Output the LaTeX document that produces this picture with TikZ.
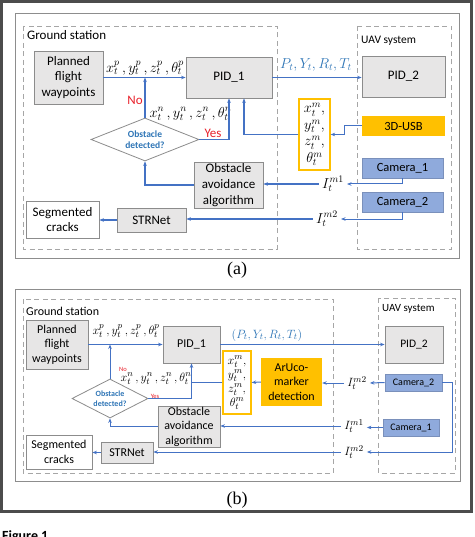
\documentclass[tikz,border=0pt]{standalone}
\usepackage{fontspec}
\setmainfont{Carlito}
\newfontfamily\capfont{Liberation Serif}
\usetikzlibrary{arrows.meta}
\usetikzlibrary{shapes.geometric}

\definecolor{boxgray}{HTML}{E7E6E6}
\definecolor{edgegray}{HTML}{8C8C8C}
\definecolor{linkblue}{HTML}{4472C4}
\definecolor{camblue}{HTML}{8FAADC}
\definecolor{usborange}{HTML}{FFC000}
\definecolor{framegray}{HTML}{A6A6A6}
\definecolor{labelred}{HTML}{E8202A}
\definecolor{textblue}{HTML}{2E75B6}

\begin{document}
\begin{tikzpicture}[x=1pt,y=-1pt,>={Stealth[length=4.5pt,width=3.5pt]},
  block/.style={draw=edgegray,fill=boxgray,line width=0.8pt,inner sep=0pt,align=center},
  whitebox/.style={draw=edgegray,fill=white,line width=0.8pt,inner sep=0pt,align=center},
  cam/.style={draw=camblue!85!black,fill=camblue,line width=0.6pt,inner sep=0pt},
  orangebox/.style={fill=usborange,inner sep=0pt,align=center},
  measbox/.style={draw=usborange,line width=1.2pt,fill=white,inner sep=0pt,align=center},
  decision/.style={diamond,aspect=2.5,draw=edgegray,fill=white,line width=0.8pt,inner sep=0pt,align=center,text=textblue},
  link/.style={->,draw=linkblue,line width=1.3pt},
  linkb/.style={->,draw=linkblue,line width=1pt},
  group/.style={draw=framegray,line width=0.9pt,dash pattern=on 5pt off 3.5pt},
  panel/.style={draw=framegray!85!black,line width=1pt},
  lbl/.style={inner sep=3pt},
  fa/.style={font=\fontsize{13}{15.7}\selectfont},
  fb/.style={font=\fontsize{12}{14.5}\selectfont},
  ma/.style={font=\fontsize{14.5}{16}\selectfont},
  mb/.style={font=\fontsize{12.5}{14}\selectfont}]
\useasboundingbox (0,0) rectangle (474,537);
\draw[line width=3pt,draw=black!70] (1.5,1.5) rectangle (471,511.5);

% ---------- (a) ----------
\draw[panel] (15,14) rectangle (459,258);
\draw[group] (23,26) rectangle (277,249);
\draw[group] (357,26) rectangle (451,249);
\node[fa,anchor=west,inner sep=0pt] (gsA) at (27,35) {Ground station};
\node[font=\fontsize{11.5}{13}\selectfont,anchor=west,inner sep=0pt] (uavA) at (361,41) {UAV system};

\node[block,fa,minimum width=69pt,minimum height=53pt] (planA) at (68.5,77.5) {Planned\\flight\\waypoints};
\node[block,fa,minimum width=86pt,minimum height=41pt] (pidA) at (229,77.5) {PID\_1};
\node[block,fa,minimum width=83pt,minimum height=41pt] (pidtwoA) at (403.5,76.5) {PID\_2};
\node[orangebox,font=\fontsize{12.5}{14}\selectfont,minimum width=83pt,minimum height=20pt] (usbA) at (403.5,126) {3D-USB};
\node[cam,font=\fontsize{12.5}{14}\selectfont,minimum width=81pt,minimum height=20pt] (camoneA) at (402.5,168) {Camera\_1};
\node[cam,font=\fontsize{12.5}{14}\selectfont,minimum width=81pt,minimum height=20pt] (camtwoA) at (402.5,202) {Camera\_2};
\node[measbox,font=\fontsize{14}{16.5}\selectfont,minimum width=31pt,minimum height=71pt] (measA) at (314.5,134.5)
  {$x_t^m,$\\$y_t^m,$\\$z_t^m,$\\$\theta_t^m$};
\node[block,fa,minimum width=69pt,minimum height=46pt] (avoidA) at (228.5,185) {Obstacle\\avoidance\\algorithm};
\node[block,fa,minimum width=69pt,minimum height=24pt] (strA) at (151.5,220) {STRNet};
\node[whitebox,fa,minimum width=73pt,minimum height=37pt] (cracksA) at (62.5,219.5) {Segmented\\cracks};
\node[decision,font=\fontsize{9.5}{11}\selectfont\bfseries,minimum width=108pt,minimum height=43pt] (detA) at (145,139.5) {Obstacle\\detected?};

\node[ma,inner sep=0pt] (posA) at (145,68) {$x_t^p\,, y_t^p\,, z_t^p\,, \theta_t^p$};
\node[ma,inner sep=0pt] (navA) at (190.5,114) {$x_t^n\,, y_t^n\,, z_t^n\,, \theta_t^n$};
\node[ma,inner sep=0pt,text=textblue] (cmdA) at (316,65) {$P_t,Y_t,R_t,T_t$};
\node[fa,inner sep=0pt,text=labelred] (noA) at (135,100) {No};
\node[fa,inner sep=0pt,text=labelred] (yesA) at (213,133) {Yes};
\node[ma,lbl] (imoneA) at (333,184) {$I_t^{m1}$};
\node[ma,lbl] (imtwoA) at (327,219) {$I_t^{m2}$};

\draw[link] (planA.east) -- (pidA.west);
\draw[link] (detA.north) -- (detA.north |- planA.east);
\draw[link] (detA.east) -| (pidA.south);
\draw[link] (measA.west) -| ([xshift=15pt]pidA.south);
\draw[link,line width=1pt] (usbA.west) -- ++(-17,0) |- (measA.east);
\draw[link] (pidA.east) -- (pidA.east -| pidtwoA.west);
\draw[link,line width=1pt] (camoneA.south) |- (imoneA.east);
\draw[link] (imoneA.west) -- (imoneA.west -| avoidA.east);
\draw[link,line width=1pt] (camtwoA.south) |- (imtwoA.east);
\draw[link] (imtwoA.west) -- (imtwoA.west -| strA.east);
\draw[link] (avoidA.west) -| (detA.south);
\draw[link] (strA.west) -- (strA.west -| cracksA.east);

\node[font=\capfont\fontsize{18}{20}\selectfont,inner sep=0pt] (capA) at (237,270) {(a)};

% ---------- (b) ----------
\draw[panel] (15,289) rectangle (460,481);
\draw[group] (23,299) rectangle (333,473);
\draw[group] (378,298) rectangle (455,473);
\node[fb,anchor=west,inner sep=0pt] (gsB) at (26,311) {Ground station};
\node[font=\fontsize{11}{13}\selectfont,anchor=west,inner sep=0pt] (uavB) at (382,309) {UAV system};

\node[block,fb,minimum width=62pt,minimum height=49pt] (planB) at (57,344.5) {Planned\\flight\\waypoints};
\node[block,fb,minimum width=57pt,minimum height=37pt] (pidB) at (191.5,344.5) {PID\_1};
\node[block,font=\fontsize{11.5}{13}\selectfont,minimum width=58pt,minimum height=37pt] (pidtwoB) at (414,344.5) {PID\_2};
\node[decision,font=\fontsize{8}{9.5}\selectfont\bfseries,minimum width=76pt,minimum height=39pt] (detB) at (110,398.5) {Obstacle\\detected?};
\node[measbox,font=\fontsize{12.5}{14}\selectfont,minimum width=28pt,minimum height=63pt] (measB) at (237,382.5)
  {$x_t^m,$\\$y_t^m,$\\$z_t^m,$\\$\theta_t^m$};
\node[orangebox,fb,minimum width=61pt,minimum height=48pt] (arucoB) at (291.5,382) {ArUco-\\marker\\detection};
\node[cam,font=\fontsize{10}{12}\selectfont,minimum width=57pt,minimum height=17pt] (camtwoB) at (413.5,382.5) {Camera\_2};
\node[cam,font=\fontsize{10}{12}\selectfont,minimum width=56pt,minimum height=17pt] (camoneB) at (411,427.5) {Camera\_1};
\node[block,fb,minimum width=62pt,minimum height=41pt] (avoidB) at (189,426.5) {Obstacle\\avoidance\\algorithm};
\node[block,fb,minimum width=52pt,minimum height=21pt] (strB) at (127,452.5) {STRNet};
\node[whitebox,fb,minimum width=66pt,minimum height=34pt] (cracksB) at (59,452) {Segmented\\cracks};

\node[mb,inner sep=0pt] (posB) at (126,331) {$x_t^p\,, y_t^p\,, z_t^p\,, \theta_t^p$};
\node[mb,inner sep=0pt] (navB) at (156,378.5) {$x_t^n\,, y_t^n\,, z_t^n\,, \theta_t^n$};
\node[mb,inner sep=0pt,text=textblue] (cmdB) at (267,335) {$(P_t,Y_t,R_t,T_t)$};
\node[font=\fontsize{6.5}{8}\selectfont,inner sep=0pt,text=labelred] (noB) at (123,369) {No};
\node[font=\fontsize{6.5}{8}\selectfont,inner sep=0pt,text=labelred] (yesB) at (155,396) {Yes};
\node[mb,lbl] (imtwoB) at (357,383) {$I_t^{m2}$};
\node[mb,lbl] (imoneB) at (354,426) {$I_t^{m1}$};
\node[mb,lbl] (imthrB) at (354,452) {$I_t^{m2}$};

\draw[linkb] (planB.east) -- (pidB.west);
\draw[linkb] (detB.north) -- (detB.north |- planB.east);
\draw[linkb] (detB.east) -| (pidB.south);
\draw[linkb,-] (measB.west) -- (measB.west -| pidB.south);
\draw[linkb] (arucoB.west) -- (measB.east);
\draw[linkb] (imtwoB.west) -- (imtwoB.west -| arucoB.east);
\draw[linkb] (camtwoB.west) -- (imtwoB.east);
\draw[linkb] (pidB.east) -- (pidtwoB.west);
\draw[linkb] (camoneB.west) -- (camoneB.west -| imoneB.east);
\draw[linkb] (imoneB.west) -- (imoneB.west -| avoidB.east);
\draw[linkb] (camtwoB.east) -- ++(10,0) |- (imthrB.east);
\draw[linkb] (imthrB.west) -- (imthrB.west -| strB.east);
\draw[linkb] (avoidB.west) -| (detB.south);
\draw[linkb] (strB.west) -- (strB.west -| cracksB.east);

\node[font=\capfont\fontsize{18}{20}\selectfont,inner sep=0pt] (capB) at (237,500) {(b)};

\node[font=\fontsize{14}{16}\selectfont\bfseries,anchor=north west,inner sep=0pt] (figcap) at (2,530) {Figure 1.};
\end{tikzpicture}
\end{document}
